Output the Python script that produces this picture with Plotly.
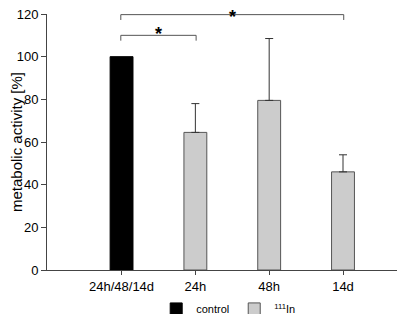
import plotly.graph_objects as go

categories = ["24h/48/14d", "24h", "48h", "14d"]
control_cat = ["24h/48/14d"]
control_vals = [100]
in_cats = ["24h", "48h", "14d"]
in_vals = [64.5, 79.5, 46]
in_err_top = [78, 108.5, 54]
y_ticks = [0, 20, 40, 60, 80, 100, 120]
brackets = [("24h/48/14d", "24h", 110, -11), ("24h/48/14d", "14d", 119.7, -14)]

font = "Liberation Sans, Arial, sans-serif"

fig = go.Figure()
fig.add_trace(go.Bar(x=control_cat, y=control_vals, name="control",
                     marker=dict(color="black", line=dict(color="black", width=1)),
                     width=0.31))
fig.add_trace(go.Bar(x=in_cats, y=in_vals, name="<sup>111</sup>In",
                     marker=dict(color="#cccccc", line=dict(color="#555555", width=1)),
                     width=0.31,
                     error_y=dict(type="data", symmetric=False,
                                  array=[t - v for t, v in zip(in_err_top, in_vals)],
                                  arrayminus=[0] * len(in_vals),
                                  color="#333333", thickness=1, width=4)))

shapes = []
annotations = []
idx = {c: i for i, c in enumerate(categories)}
for a, b, yv, ys in brackets:
    xa, xb = idx[a] - 0.01, idx[b] + 0.01
    shapes.append(dict(type="path", xref="x", yref="y",
                       path=f"M {xa},{yv-2.5} L {xa},{yv} L {xb},{yv} L {xb},{yv-2.5}",
                       line=dict(color="#555555", width=1)))
    annotations.append(dict(x=(xa + xb) / 2, y=yv, xref="x", yref="y", text="<b>*</b>",
                            showarrow=False, yanchor="bottom", yshift=ys,
                            font=dict(size=18, color="black", family=font)))

# the page body has an 8px margin, so the figure is sized to fit the window
fig.update_layout(
    width=397, height=306,
    margin=dict(l=39, r=0, t=6, b=44, autoexpand=False),
    plot_bgcolor="white", paper_bgcolor="white",
    barmode="overlay",
    font=dict(family=font, size=12, color="black"),
    showlegend=True,
    legend=dict(orientation="h", x=0.305, xanchor="left", y=-0.152, yanchor="middle",
                font=dict(size=11), itemwidth=30, tracegroupgap=0),
    shapes=shapes, annotations=annotations,
)
fig.update_xaxes(type="category", categoryorder="array", categoryarray=categories,
                 range=[-1.01, 3.84], showline=True, linecolor="#444444", linewidth=1,
                 ticks="outside", ticklen=4, tickcolor="#444444", showgrid=False,
                 tickfont=dict(size=13), automargin=False, ticklabeloverflow="allow")
fig.update_yaxes(range=[0, 120], tickvals=y_ticks, showline=True, linecolor="#444444",
                 linewidth=1, ticks="outside", ticklen=5, tickcolor="#444444",
                 showgrid=False, zeroline=False, tickfont=dict(size=13), automargin=False,
                 ticklabeloverflow="allow",
                 title=dict(text="metabolic activity [%]", font=dict(size=15), standoff=0))

fig.write_html("out.html")
